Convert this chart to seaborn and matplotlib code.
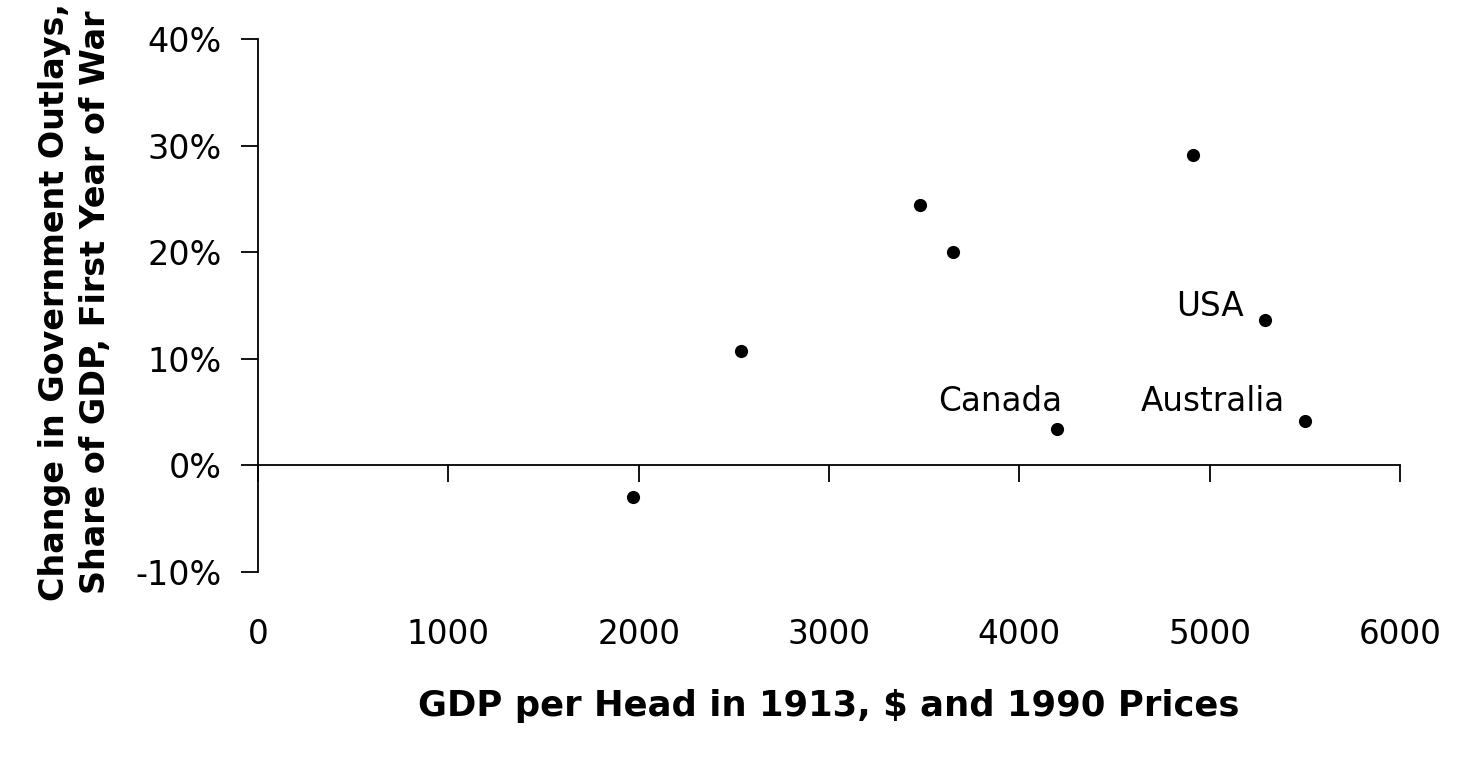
import matplotlib
matplotlib.use("Agg")
import matplotlib.pyplot as plt
import matplotlib.transforms as mtransforms
import seaborn as sns
import pandas as pd

# Data
gdp_per_head = [1970, 2540, 3480, 3650, 4200, 4910, 5290, 5500]
outlay_change = [-3.0, 10.7, 24.4, 20.0, 3.4, 29.1, 13.6, 4.2]
point_labels = ["", "", "", "", "Canada", "", "USA", "Australia"]
x_ticks = [0, 1000, 2000, 3000, 4000, 5000, 6000]
y_ticks = [-10, 0, 10, 20, 30, 40]
y_tick_labels = ["-10%", "0%", "10%", "20%", "30%", "40%"]

df = pd.DataFrame({"gdp": gdp_per_head, "chg": outlay_change, "label": point_labels})

sns.set_theme(style="white")
plt.rcParams["font.family"] = ["DejaVu Sans"]

fig = plt.figure(figsize=(14.58, 7.65), dpi=100)
ax = fig.add_axes([258 / 1458, 1 - 572 / 765, (1400 - 258) / 1458, (572 - 39) / 765])

sns.scatterplot(data=df, x="gdp", y="chg", ax=ax, color="black", s=90,
                edgecolor="black", linewidth=0, zorder=3, legend=False)

ax.set_xlim(0, 6000)
ax.set_ylim(-10, 40)

for side in ["top", "right"]:
    ax.spines[side].set_visible(False)
ax.spines["left"].set_color("black")
ax.spines["left"].set_linewidth(1.3)
ax.spines["bottom"].set_position(("data", 0))
ax.spines["bottom"].set_color("black")
ax.spines["bottom"].set_linewidth(1.3)

ax.set_yticks(y_ticks)
ax.set_yticklabels(y_tick_labels)
ax.set_xticks(x_ticks)
ax.tick_params(axis="y", direction="out", length=12, width=1.3, color="black",
               left=True, labelsize=24, pad=14, labelcolor="black")
ax.tick_params(axis="x", direction="out", length=12, width=1.3, color="black",
               bottom=True, labelbottom=False)

# x tick labels drawn below the plot
trans = mtransforms.blended_transform_factory(ax.transData, fig.transFigure)
for xv in x_ticks:
    ax.text(xv, 1 - 635 / 765, f"{xv}", transform=trans, ha="center", va="center",
            fontsize=23.5, color="black")

fig.text((420 + 1238) / 2 / 1458, 1 - 706 / 765, "GDP per Head in 1913, $ and 1990 Prices",
         ha="center", va="center", fontsize=25.5, fontweight="bold", color="black")

fig.text(75 / 1458, 1 - 302 / 765,
         "Change in Government Outlays,\nShare of GDP, First Year of War",
         ha="center", va="center", rotation=90, fontsize=24, fontweight="bold",
         color="black", linespacing=1.28)

offsets = {"Canada": (5, 28), "USA": (-21, 14), "Australia": (-20, 19)}
for _, r in df.iterrows():
    if r["label"]:
        dx, dy = offsets[r["label"]]
        ax.annotate(r["label"], (r["gdp"], r["chg"]), xytext=(dx, dy),
                    textcoords="offset pixels", ha="right", va="center",
                    fontsize=23.5, color="black")

ax.set_xlabel("")
ax.set_ylabel("")
fig.savefig("out.png", dpi=100, facecolor="white")
